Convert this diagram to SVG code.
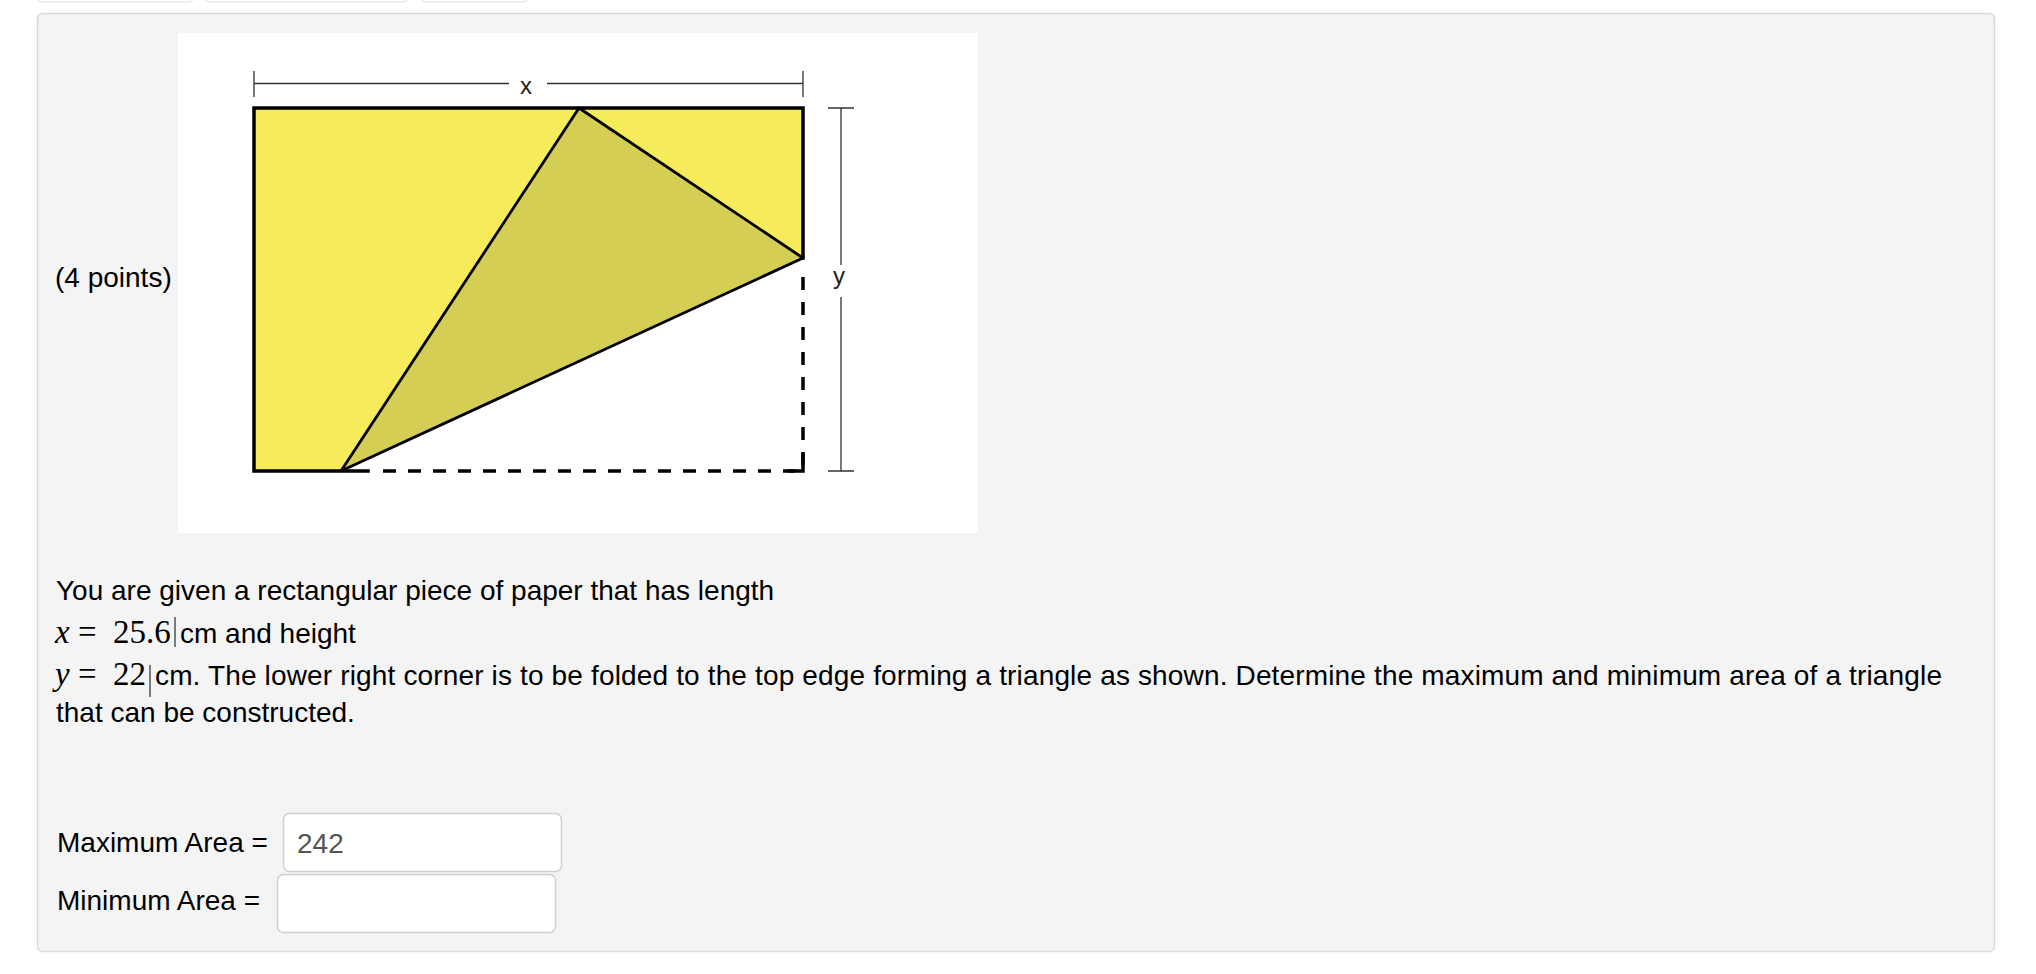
<svg xmlns="http://www.w3.org/2000/svg" width="2036" height="974" viewBox="0 0 2036 974">
<style>
.t{font-family:"Liberation Sans",Arial,Helvetica,sans-serif;font-size:28px;fill:#000}
.m{font-family:"Liberation Serif","Times New Roman",serif;font-size:33px;fill:#000}
.mi{font-style:italic}
.dim{stroke:#333;stroke-width:1.3;fill:none}
.lbl{font-family:"Liberation Sans",Arial,sans-serif;font-size:24px;fill:#222;text-anchor:middle}
.edge{stroke:#000;stroke-width:3.5;fill:none;stroke-linecap:square}
.fold{stroke:#000;stroke-width:2.8;fill:none;stroke-linejoin:round}
.dash{stroke:#000;stroke-width:3.5;fill:none;stroke-dasharray:13 12}
.box{fill:#fff;stroke:#cfcfcf;stroke-width:1.5}
</style>
<rect width="2036" height="974" fill="#fff"/>
<g id="tabs">
<rect x="38" y="-10" width="155" height="12" rx="4" fill="#fff" stroke="#e2e2e2" stroke-width="1.2"/>
<rect x="205" y="-10" width="202" height="12" rx="4" fill="#fff" stroke="#e2e2e2" stroke-width="1.2"/>
<rect x="422" y="-10" width="105" height="12" rx="4" fill="#fff" stroke="#e2e2e2" stroke-width="1.2"/>
</g>
<g id="panel">
<rect x="37.5" y="13.5" width="1957" height="938" rx="5" fill="#f4f4f4" stroke="#dadada" stroke-width="1.5"/>
</g>
<g id="figure">
<rect x="178" y="33" width="800" height="500" fill="#fff"/>
<polygon points="254,108 803,108 803,258 341,471 254,471" fill="#f5eb5b"/>
<polygon points="579,108 803,258 341,471" fill="#d5ce55"/>
<path class="fold" d="M341,471 L579,108 L803,258 L341,471"/>
<path class="edge" d="M254,108 H803 V258 M254,108 V471 H368"/>
<path class="dash" d="M383,471 H795"/>
<path class="dash" d="M803,277 V465"/>
<path class="edge" stroke-linecap="butt" d="M790,471 H803 V455" style="stroke-linejoin:miter"/>
<g id="dim-x">
<path class="dim" d="M254,71 V97 M803,71 V97 M254,83.5 H509 M547,83.5 H803"/>
<text class="lbl" x="526" y="94">x</text>
</g>
<g id="dim-y">
<path class="dim" d="M828,108 H854 M828,471 H854 M841,108 V265 M841,297 V471"/>
<text class="lbl" x="839" y="284">y</text>
</g>
</g>
<text class="t" x="55" y="287">(4 points)</text>
<g id="question">
<text class="t" x="56" y="600">You are given a rectangular piece of paper that has length</text>
<text class="m mi" x="55" y="643">x</text>
<text class="m" x="78" y="643">=</text>
<text class="m" x="113" y="643">25.6</text>
<line x1="175" y1="617" x2="175" y2="647" stroke="#000" stroke-width="1"/>
<text class="t" x="180" y="643">cm and height</text>
<text class="m mi" x="55" y="685">y</text>
<text class="m" x="78" y="685">=</text>
<text class="m" x="113" y="685">22</text>
<line x1="150" y1="665" x2="150" y2="697" stroke="#000" stroke-width="1"/>
<text class="t" x="155" y="685" textLength="1787" lengthAdjust="spacing">cm. The lower right corner is to be folded to the top edge forming a triangle as shown. Determine the maximum and minimum area of a triangle</text>
<text class="t" x="56" y="722">that can be constructed.</text>
</g>
<g id="answers">
<text class="t" x="57" y="852">Maximum Area =</text>
<rect class="box" x="283.5" y="813.5" width="278" height="58" rx="6"/>
<text class="t" x="297" y="853" style="fill:#555">242</text>
<text class="t" x="57" y="910">Minimum Area =</text>
<rect class="box" x="277.5" y="874.5" width="278" height="58" rx="6"/>
</g>
</svg>
